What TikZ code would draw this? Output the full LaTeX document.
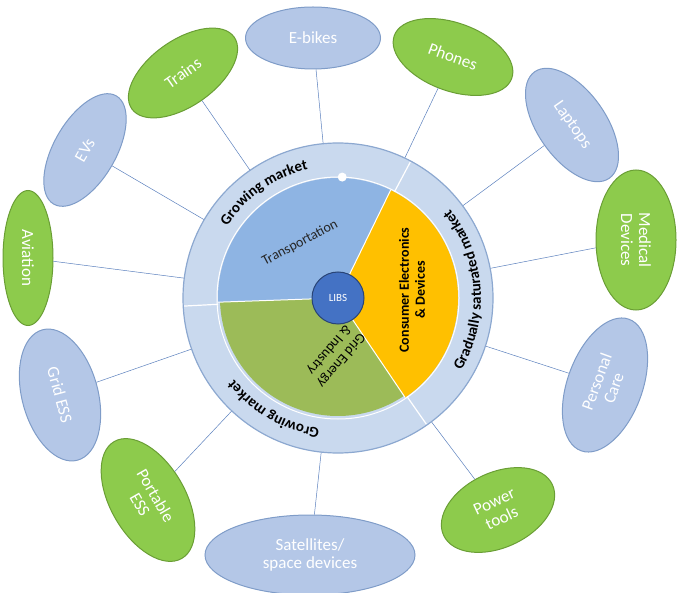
\documentclass[tikz,border=0pt]{standalone}
\usepackage{fontspec}
\setmainfont{Carlito}
\usetikzlibrary{shapes.geometric,decorations.text,calc}
\definecolor{ringf}{HTML}{C9D9EE}
\definecolor{ringd}{HTML}{8CA8D0}
\definecolor{trf}{HTML}{8EB4E3}
\definecolor{grf}{HTML}{9CBB58}
\definecolor{orf}{HTML}{FFC000}
\definecolor{libf}{HTML}{4472C4}
\definecolor{bef}{HTML}{B4C7E7}
\definecolor{bed}{HTML}{7F9CC8}
\definecolor{gef}{HTML}{8DCB4C}
\definecolor{ged}{HTML}{6A9E35}
\definecolor{linec}{HTML}{5B80BD}
\newcommand{\myringfont}{\bfseries\fontsize{15}{16}\selectfont}
\tikzset{
 el/.style={ellipse,draw,line width=1pt,text=white,font=\fontsize{17}{18}\selectfont,align=center,inner sep=0pt},
 bl/.style={el,fill=bef,draw=bed},
 gn/.style={el,fill=gef,draw=ged},
 con/.style={draw=linec,line width=0.5pt}
}
\begin{document}
\begin{tikzpicture}[x=1pt,y=1pt]
\useasboundingbox (0,0) rectangle (685,-593);
\coordinate (C) at (338,-298);
% ellipses
\node[bl,minimum width=135pt,minimum height=62pt] (eb) at (313,-38) {E-bikes};
\node[gn,minimum width=125pt,minimum height=68pt,rotate=-20] (ph) at (453,-57) {Phones};
\node[bl,minimum width=130pt,minimum height=68pt,rotate=-55] (lp) at (572,-125) {Laptops};
\node[gn,minimum width=140pt,minimum height=80pt,rotate=-90] (md) at (636,-240) {Medical\\Devices};
\node[bl,minimum width=140pt,minimum height=75pt,rotate=70] (pc) at (605,-385) {Personal\\Care};
\node[gn,minimum width=120pt,minimum height=75pt,rotate=25] (pt) at (498,-510) {Power\\tools};
\node[bl,minimum width=210pt,minimum height=80pt] (sat) at (310,-555) {Satellites/\\space devices};
\node[gn,minimum width=135pt,minimum height=75pt,rotate=-60] (pe) at (148,-500) {Portable\\ESS};
\node[bl,minimum width=135pt,minimum height=76pt,rotate=-75] (ge) at (60,-395) {Grid ESS};
\node[gn,minimum width=135pt,minimum height=50pt,rotate=-90] (av) at (28,-258) {Aviation};
\node[bl,minimum width=125pt,minimum height=62pt,rotate=60] (ev) at (85,-150) {EVs};
\node[gn,minimum width=125pt,minimum height=66pt,rotate=35] (tr) at (183,-73) {Trains};
% connectors (ring drawn over their inner ends)
\foreach \e in {eb,ph,lp,md,pc,pt,sat,pe,ge,av,ev,tr}{\draw[con] (\e) -- (C);}
% ring
\node[circle,fill=ringf,draw=ringd,line width=1.2pt,minimum size=310pt] (ring) at (C) {};
\draw[white,line width=1.2pt] ($(C)+(62:120)$) -- ($(C)+(62:154)$);
\draw[white,line width=1.2pt] ($(C)+(183:120)$) -- ($(C)+(183:154)$);
\draw[white,line width=1.2pt] ($(C)+(-55:120)$) -- ($(C)+(-55:154)$);
% pie
\fill[trf] (C) -- ++(64:120) arc[start angle=64,end angle=182,radius=120] -- cycle;
\fill[grf] (C) -- ++(182:118) arc[start angle=182,end angle=304,radius=118] -- cycle;
\fill[orf] (C) -- ++(-56:120) arc[start angle=-56,end angle=64,radius=120] -- cycle;
\draw[white,line width=1pt] (C) circle[radius=121];
\draw[white,line width=1pt] (C) -- ++(64:120) (C) -- ++(182:120) (C) -- ++(-56:120);
\fill[white] ($(C)+(88:121)$) circle[radius=4.5];
\node[circle,fill=libf,draw=libf!60!black,line width=1pt,minimum size=52pt,text=white,font=\fontsize{11}{12}\selectfont] (libs) at (C) {LIBS};
% inner labels
\node[rotate=28,font=\fontsize{14}{15}\selectfont,text=black!85] (trl) at (300,-243) {Transportation};
\node[rotate=90,align=center,font=\bfseries\fontsize{14}{16}\selectfont] (cel) at (412,-290) {Consumer Electronics\\\& Devices};
\node[rotate=-130,align=center,font=\fontsize{14}{16}\selectfont] (gel) at (335,-355) {Grid Energy\\\& Industry};
% ring texts
\path[decorate,decoration={text along path,text align=center,text={|\myringfont|Growing market}}]
  ($(C)+(175:132)$) arc[start angle=175,end angle=75,radius=132];
\path[decorate,decoration={text along path,text align=center,text={|\myringfont|Growing market}}]
  ($(C)+(-60:132)$) arc[start angle=-60,end angle=-180,radius=132];
\path[decorate,decoration={text along path,text align=center,text={|\myringfont|Gradually saturated market}}]
  ($(C)+(-52:143)$) arc[start angle=-52,end angle=60,radius=143];
\end{tikzpicture}
\end{document}
